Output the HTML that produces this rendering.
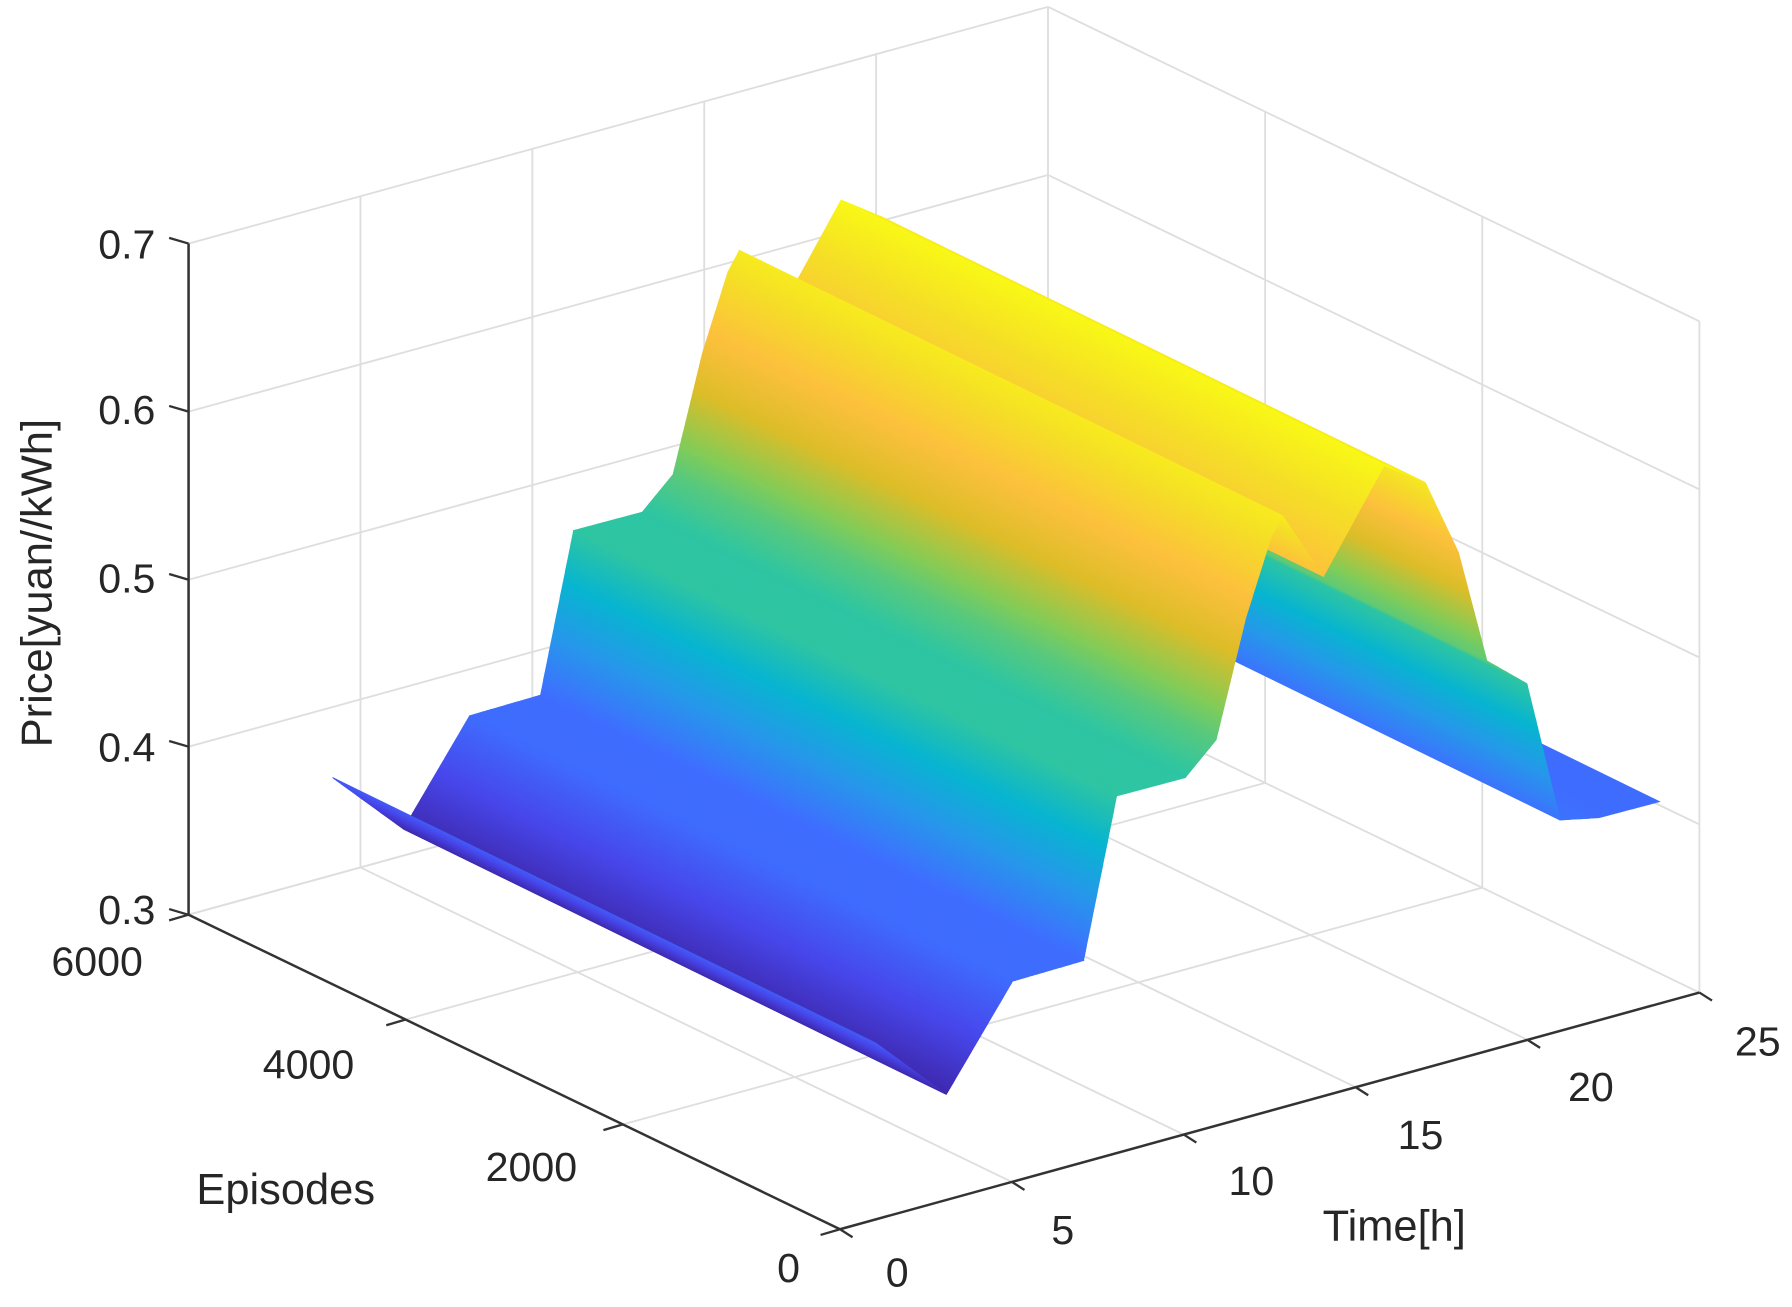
<!DOCTYPE html>
<html><head><meta charset="utf-8">
<style>
html,body{margin:0;padding:0;background:#fff;}
svg{display:block;}
text{font-family:"Liberation Sans",Arial,sans-serif;fill:#262626;}
</style></head>
<body>
<svg id="s" width="1792" height="1307" viewBox="0 0 1568 1143" preserveAspectRatio="none" xmlns="http://www.w3.org/2000/svg">
<rect width="1568" height="1143" fill="#fff"/>
<g id="grid" stroke="#dedede" stroke-width="1.6" fill="none"></g>
<g id="surf"></g>
<g id="axes" stroke="#333" stroke-width="2.2" fill="none">
<line x1="165" y1="213" x2="165" y2="800"/>
<line x1="165" y1="800" x2="735" y2="1075"/>
<line x1="735" y1="1075" x2="1487" y2="868"/>
</g>
<g id="ticks" stroke="#333" stroke-width="2" fill="none"></g>
<g font-size="36">
<text x="136" y="226" text-anchor="end">0.7</text>
<text x="136" y="371" text-anchor="end">0.6</text>
<text x="136" y="518" text-anchor="end">0.5</text>
<text x="136" y="666" text-anchor="end">0.4</text>
<text x="136" y="808" text-anchor="end">0.3</text>
<text x="85" y="853" text-anchor="middle">6000</text>
<text x="270" y="943" text-anchor="middle">4000</text>
<text x="465" y="1033" text-anchor="middle">2000</text>
<text x="690" y="1121" text-anchor="middle">0</text>
<text x="785" y="1125" text-anchor="middle">0</text>
<text x="930" y="1088" text-anchor="middle">5</text>
<text x="1095" y="1045" text-anchor="middle">10</text>
<text x="1243" y="1005" text-anchor="middle">15</text>
<text x="1392" y="963" text-anchor="middle">20</text>
<text x="1538" y="923" text-anchor="middle">25</text>
</g>
<g font-size="38">
<text x="250" y="1053" text-anchor="middle">Episodes</text>
<text x="1220" y="1085" text-anchor="middle">Time[h]</text>
<text transform="translate(45,510) rotate(-90)" text-anchor="middle">Price[yuan//kWh]</text>
</g>
</svg>
<script>
(function(){
var NS="http://www.w3.org/2000/svg";
function el(p,tag,a){var e=document.createElementNS(NS,tag);for(var k in a)e.setAttribute(k,a[k]);p.appendChild(e);return e;}
var grid=document.getElementById('grid');
var zs=[213,360,507,653,800];
// back wall A (e=max)
zs.forEach(function(y){el(grid,'line',{x1:165,y1:y,x2:917,y2:y-207});});
for(var k=1;k<=5;k++){var x=165+150.4*k,yf=800-41.4*k;el(grid,'line',{x1:x,y1:yf,x2:x,y2:yf-587});}
// back wall B (t=25)
zs.forEach(function(y){el(grid,'line',{x1:917,y1:y-207,x2:1487,y2:y+68});});
for(var k=0;k<3;k++){var x=1487-190*k,yf=868-91.7*k;el(grid,'line',{x1:x,y1:yf,x2:x,y2:yf-587});}
// floor
for(var k=1;k<=4;k++){el(grid,'line',{x1:735+150.4*k,y1:1075-41.4*k,x2:165+150.4*k,y2:800-41.4*k});}
for(var k=1;k<=3;k++){el(grid,'line',{x1:735-190*k,y1:1075-91.7*k,x2:1487-190*k,y2:868-91.7*k});}
// ticks
var tk=document.getElementById('ticks');
zs.forEach(function(y){el(tk,'line',{x1:165,y1:y,x2:148,y2:y-5});});
for(var k=0;k<=3;k++){var x=735-190*k,y=1075-91.7*k;el(tk,'line',{x1:x,y1:y,x2:x-17,y2:y+5});}
for(var k=0;k<=5;k++){var x=735+150.4*k,y=1075-41.4*k;el(tk,'line',{x1:x,y1:y,x2:x+11,y2:y+7});}
// parula
var P=[[0.2422,0.1504,0.6603],[0.2803,0.2782,0.9221],[0.2440,0.4358,0.9988],[0.1540,0.5902,0.9218],[0.0297,0.7082,0.8163],[0.1938,0.7758,0.6251],[0.5044,0.7993,0.3480],[0.8634,0.7406,0.1596],[0.9892,0.7536,0.2385],[0.9610,0.8705,0.1537],[0.9769,0.9839,0.0805]];
function cmap(v){v=Math.max(0,Math.min(1,v))*10;var i=Math.min(9,Math.floor(v)),f=v-i;var c=P[i].map(function(a,j){return Math.round(255*(a+(P[i+1][j]-a)*f));});return 'rgb('+c.join(',')+')';}
function zOf(x,y){var t=(x-735)/30.08;var Fy=1075-8.28*t;return 0.3+(Fy-y)/1467;}
var F=[[766,912],[828,957],[886,858],[948,840],[977,696],[1037,680],[1064,647],[1090,540],[1112,470],[1122,451],[1158,504],[1211,407],[1247,422],[1276,483],[1301,578],[1336,598],[1365,717],[1399,715],[1452,701]];
var v=[-475,-232];
var surf=document.getElementById('surf');
var zmin=0.36,zmax=0.67;
for(var i=F.length-2;i>=0;i--){
 var a=F[i],b=F[i+1];
 var za=zOf(a[0],a[1]),zb=zOf(b[0],b[1]);
 var len=Math.hypot(b[0]-a[0],b[1]-a[1]);
 var n=Math.max(1,Math.ceil(len/2));
 for(var k=n-1;k>=0;k--){
  var f0=k/n,f1=(k+1)/n;
  var p0=[a[0]+(b[0]-a[0])*f0,a[1]+(b[1]-a[1])*f0];
  var p1=[a[0]+(b[0]-a[0])*f1,a[1]+(b[1]-a[1])*f1];
  var z=za+(zb-za)*(f0+f1)/2;
  var c=cmap((z-zmin)/(zmax-zmin));
  var pts=[p0,p1,[p1[0]+v[0],p1[1]+v[1]],[p0[0]+v[0],p0[1]+v[1]]].map(function(p){return p[0].toFixed(1)+','+p[1].toFixed(1);}).join(' ');
  el(surf,'polygon',{points:pts,fill:c,stroke:c,'stroke-width':0.8});
 }
}
})();
</script>
</body></html>
